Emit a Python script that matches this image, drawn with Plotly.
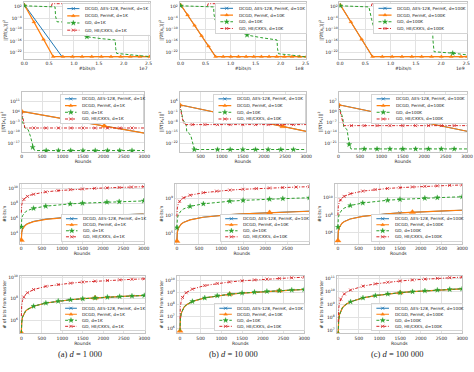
import plotly.graph_objects as go

W, H = 474, 372
BLUE, ORANGE, GREEN, RED = "#1f77b4", "#ff7f0e", "#2ca02c", "#d62728"
GRID, FRAME, TXT = "#e2e2e2", "#c4c4c4", "#222222"
FONT = "DejaVu Sans"

# ---------------- labels ----------------
DIMS = ["1K", "10K", "100K"]
CAPTIONS = ["(a) <i>d</i> = 1 000", "(b) <i>d</i> = 10 000", "(c) <i>d</i> = 100 000"]
OFFSET_TEXT = ["1e7", "1e8", "1e9"]
NAMES = ["DCGD, AES-128, PermK", "DCGD, PermK", "GD", "GD, HE/CKKS"]
GRAD_TITLE = "||∇f(x<sub>k</sub>)||<sup>2</sup>"

# ---------------- row 1: ||grad||^2 vs #bits/n ----------------
g1_aes_1k_x = [0.0, 0.253, 0.506, 0.759, 1.012, 1.265, 1.518, 1.771, 2.024, 2.277, 2.53]
g1_aes_1k_y = [1.6e3, 1.1e-6, 7.4e-16, 5e-25, 5e-25, 5e-25, 5e-25, 5e-25, 5e-25, 5e-25, 5e-25]
g1_perm_1k_x = [0.0, 0.194, 0.388, 0.582, 0.776, 0.97, 1.164, 1.358, 1.552, 1.746, 1.94, 2.134, 2.328, 2.522]
g1_perm_1k_y = [1.6e3, 1e-6, 6e-16, 5e-25, 5e-25, 5e-25, 5e-25, 5e-25, 5e-25, 5e-25, 5e-25, 5e-25, 5e-25, 5e-25]
g1_gd_1k_x = [0.0, 0.3, 0.62, 0.63, 0.66, 1.24, 1.25, 1.26, 1.55, 1.83, 1.84, 1.86, 2.2, 2.53]
g1_gd_1k_y = [4e2, 1.6e2, 1e2, 1e-3, 1.3e-6, 6.3e-7, 1e-10, 1.6e-14, 1.6e-15, 3.2e-16, 1e-20, 2.5e-23, 3.2e-24, 5e-25]
g1_he_1k_x = [0.55, 0.56, 1.1, 1.65, 2.2, 2.53]
g1_he_1k_y = [3e2, 5e3, 5e3, 5e3, 5e3, 5e3]

g1_aes_10k_x = [0.0, 0.70, 1.2, 1.7, 2.2, 2.52]
g1_aes_10k_y = [1.6e3, 5e-25, 5e-25, 5e-25, 5e-25, 5e-25]
g1_perm_10k_x = [0.0, 0.14, 0.28, 0.42, 0.56, 0.70, 0.853, 1.006, 1.159, 1.312, 1.465, 1.618, 1.771, 1.924, 2.077, 2.23, 2.383, 2.52]
g1_perm_10k_y = [1.6e3, 5e-3, 1.6e-8, 5e-14, 1.6e-19, 5e-25, 5e-25, 5e-25, 5e-25, 5e-25, 5e-25, 5e-25, 5e-25, 5e-25, 5e-25, 5e-25, 5e-25, 5e-25]
g1_gd_10k_x = [0.0, 0.35, 0.66, 0.67, 0.69, 1.31, 1.32, 1.33, 1.6, 1.93, 1.94, 1.96, 2.25, 2.52]
g1_gd_10k_y = [4e2, 2e2, 1e2, 1e-2, 1e-5, 5e-6, 1e-9, 1.3e-13, 6.3e-15, 3.2e-16, 1e-20, 1.6e-23, 2.5e-24, 3.2e-25]
g1_he_10k_x = [0.54, 0.55, 1.1, 1.65, 2.2, 2.52]
g1_he_10k_y = [3e2, 5e3, 5e3, 5e3, 5e3, 5e3]

g1_aes_100k_x = [0.0, 0.64, 1.2, 1.8, 2.52]
g1_aes_100k_y = [1.6e3, 5e-25, 5e-25, 5e-25, 5e-25]
g1_perm_100k_x = [0.0, 0.213, 0.427, 0.64, 0.835, 1.03, 1.225, 1.42, 1.615, 1.81, 2.005, 2.2, 2.395, 2.52]
g1_perm_100k_y = [1.6e3, 1.1e-6, 7.4e-16, 5e-25, 5e-25, 5e-25, 5e-25, 5e-25, 5e-25, 5e-25, 5e-25, 5e-25, 5e-25, 5e-25]
g1_gd_100k_x = [0.0, 0.3, 0.57, 0.62, 0.67, 1.2, 1.83, 1.84, 1.86, 2.23, 2.52]
g1_gd_100k_y = [4e2, 2e2, 1e2, 6.3e-5, 4e-10, 1.6e-10, 5e-11, 1e-16, 2e-22, 3.2e-23, 4e-24]
g1_he_100k_x = [0.62, 0.63, 1.2, 1.8, 2.52]
g1_he_100k_y = [3e2, 5e3, 5e3, 5e3, 5e3]

# ---------------- row 2: ||grad||^2 vs rounds ----------------
g2_aes_1k_x = [0, 3000]
g2_aes_1k_y = [2e4, 5e-11]
g2_perm_1k_x = [0, 2020, 3000]
g2_perm_1k_y = [2e4, 3e-6, 5e-11]
g2_gd_1k_x = [0, 20, 30, 60, 80, 120, 160, 215, 270, 300, 340, 600, 900, 1200, 1500, 1800, 2100, 2400, 2700, 3000]
g2_gd_1k_y = [2e4, 1e0, 2.5e-4, 1e-5, 1.3e-7, 3e-8, 1e-8, 3e-13, 1.3e-20, 3e-22, 8e-23, 8e-23, 8e-23, 8e-23, 8e-23, 8e-23, 8e-23, 8e-23, 8e-23, 8e-23]
g2_he_1k_x = [0, 30, 60, 80, 300, 600, 900, 1200, 1500, 1800, 2100, 2400, 2700, 3000]
g2_he_1k_y = [2e4, 1e0, 1e-4, 1.3e-7, 1.3e-7, 1.3e-7, 1.3e-7, 1.3e-7, 1.3e-7, 1.3e-7, 1.3e-7, 1.3e-7, 1.3e-7, 1.3e-7]

g2_aes_10k_x = [0, 3000]
g2_aes_10k_y = [6.3e3, 1e-14]
g2_perm_10k_x = [0, 2450, 3000]
g2_perm_10k_y = [6.3e3, 2e-11, 1e-14]
g2_gd_10k_x = [0, 40, 78, 120, 156, 170, 230, 270, 310, 350, 600, 900, 1200, 1500, 1800, 2100, 2400, 2700, 3000]
g2_gd_10k_y = [6.3e3, 1e0, 6.3e-7, 1e-8, 3.2e-10, 1e-14, 3.2e-16, 5e-18, 1.3e-23, 6.3e-27, 6.3e-27, 6.3e-27, 6.3e-27, 6.3e-27, 6.3e-27, 6.3e-27, 6.3e-27, 6.3e-27, 6.3e-27]
g2_he_10k_x = [0, 40, 80, 120, 300, 600, 900, 1200, 1500, 1800, 2100, 2400, 2700, 3000]
g2_he_10k_y = [6.3e3, 1e-2, 1e-7, 3.2e-10, 3.2e-10, 3.2e-10, 3.2e-10, 3.2e-10, 3.2e-10, 3.2e-10, 3.2e-10, 3.2e-10, 3.2e-10, 3.2e-10]

g2_aes_100k_x = [0, 3000]
g2_aes_100k_y = [6.3e4, 8e-14]
g2_perm_100k_x = [0, 1930, 3000]
g2_perm_100k_y = [6.3e4, 2e-7, 8e-14]
g2_gd_100k_x = [0, 60, 100, 115, 125, 200, 250, 290, 600, 900, 1200, 1500, 1800, 2100, 2400, 2700, 3000]
g2_gd_100k_y = [6.3e4, 1e0, 6.3e-5, 1e-8, 6.3e-11, 1e-12, 1e-22, 1e-25, 1e-25, 1e-25, 1e-25, 1e-25, 1e-25, 1e-25, 1e-25, 1e-25, 1e-25]
g2_he_100k_x = [0, 60, 120, 300, 600, 900, 1200, 1500, 1800, 2100, 2400, 2700, 3000]
g2_he_100k_y = [6.3e4, 1e-3, 5e-10, 5e-10, 5e-10, 5e-10, 5e-10, 5e-10, 5e-10, 5e-10, 5e-10, 5e-10, 5e-10]

# ---------------- rows 3-4: cumulative bits vs rounds ----------------
ROUNDS = [1, 3, 10, 30, 60, 100, 150, 200, 300, 600, 900, 1200, 1500, 1800, 2100, 2400, 2700, 3000]

b3_aes_1k = [1.3e3, 3.9e3, 1.3e4, 3.9e4, 7.8e4, 1.3e5, 1.95e5, 2.6e5, 3.9e5, 7.8e5, 1.17e6, 1.56e6, 1.95e6, 2.34e6, 2.73e6, 3.12e6, 3.51e6, 3.9e6]
b3_perm_1k = [1.2e3, 3.6e3, 1.2e4, 3.6e4, 7.2e4, 1.2e5, 1.8e5, 2.4e5, 3.6e5, 7.2e5, 1.08e6, 1.44e6, 1.8e6, 2.16e6, 2.52e6, 2.88e6, 3.24e6, 3.6e6]
b3_gd_1k = [7.2e4, 2.2e5, 7.2e5, 2.2e6, 4.3e6, 7.2e6, 1.1e7, 1.4e7, 2.2e7, 4.3e7, 6.5e7, 8.6e7, 1.08e8, 1.3e8, 1.51e8, 1.73e8, 1.94e8, 2.16e8]
b3_he_1k = [5.8e6, 1.7e7, 5.8e7, 1.7e8, 3.5e8, 5.8e8, 8.7e8, 1.2e9, 1.7e9, 3.5e9, 5.2e9, 7.0e9, 8.7e9, 1.04e10, 1.22e10, 1.39e10, 1.57e10, 1.74e10]

b3_aes_10k = [1.16e4, 3.5e4, 1.16e5, 3.5e5, 7.0e5, 1.16e6, 1.74e6, 2.3e6, 3.5e6, 7.0e6, 1.04e7, 1.39e7, 1.74e7, 2.1e7, 2.4e7, 2.8e7, 3.1e7, 3.5e7]
b3_perm_10k = [1.13e4, 3.4e4, 1.13e5, 3.4e5, 6.8e5, 1.13e6, 1.7e6, 2.3e6, 3.4e6, 6.8e6, 1.02e7, 1.36e7, 1.7e7, 2.0e7, 2.4e7, 2.7e7, 3.1e7, 3.4e7]
b3_gd_10k = [4.2e5, 1.26e6, 4.2e6, 1.26e7, 2.5e7, 4.2e7, 6.3e7, 8.4e7, 1.26e8, 2.5e8, 3.8e8, 5.0e8, 6.3e8, 7.6e8, 8.8e8, 1.01e9, 1.13e9, 1.26e9]
b3_he_10k = [8.2e6, 2.5e7, 8.2e7, 2.5e8, 4.9e8, 8.2e8, 1.23e9, 1.64e9, 2.5e9, 4.9e9, 7.4e9, 9.8e9, 1.23e10, 1.48e10, 1.72e10, 1.97e10, 2.21e10, 2.46e10]

b3_aes_100k = [1.29e5, 3.9e5, 1.29e6, 3.9e6, 7.7e6, 1.29e7, 1.94e7, 2.6e7, 3.9e7, 7.7e7, 1.16e8, 1.55e8, 1.94e8, 2.3e8, 2.7e8, 3.1e8, 3.5e8, 3.9e8]
b3_perm_100k = [1.27e5, 3.8e5, 1.27e6, 3.8e6, 7.6e6, 1.27e7, 1.9e7, 2.5e7, 3.8e7, 7.6e7, 1.14e8, 1.52e8, 1.9e8, 2.3e8, 2.7e8, 3.0e8, 3.4e8, 3.8e8]
b3_gd_100k = [4.4e6, 1.32e7, 4.4e7, 1.32e8, 2.6e8, 4.4e8, 6.6e8, 8.8e8, 1.32e9, 2.6e9, 4.0e9, 5.3e9, 6.6e9, 7.9e9, 9.2e9, 1.06e10, 1.19e10, 1.32e10]
b3_he_100k = [9.8e7, 2.9e8, 9.8e8, 2.9e9, 5.9e9, 9.8e9, 1.47e10, 1.96e10, 2.9e10, 5.9e10, 8.8e10, 1.18e11, 1.47e11, 1.76e11, 2.06e11, 2.35e11, 2.65e11, 2.94e11]

m4_common_1k = [6.7e4, 2.0e5, 6.7e5, 2.0e6, 4.0e6, 6.7e6, 1.0e7, 1.34e7, 2.0e7, 4.0e7, 6.0e7, 8.0e7, 1.0e8, 1.2e8, 1.41e8, 1.61e8, 1.81e8, 2.0e8]
m4_he_1k = [2.4e6, 7.1e6, 2.4e7, 7.1e7, 1.42e8, 2.4e8, 3.6e8, 4.7e8, 7.1e8, 1.42e9, 2.1e9, 2.8e9, 3.6e9, 4.3e9, 5.0e9, 5.7e9, 6.4e9, 7.1e9]
m4_common_10k = [5.9e5, 1.77e6, 5.9e6, 1.77e7, 3.5e7, 5.9e7, 8.9e7, 1.18e8, 1.77e8, 3.5e8, 5.3e8, 7.1e8, 8.9e8, 1.06e9, 1.24e9, 1.42e9, 1.59e9, 1.77e9]
m4_he_10k = [6.3e6, 1.9e7, 6.3e7, 1.9e8, 3.8e8, 6.3e8, 9.5e8, 1.26e9, 1.9e9, 3.8e9, 5.7e9, 7.6e9, 9.5e9, 1.13e10, 1.32e10, 1.51e10, 1.7e10, 1.89e10]
m4_common_100k = [5.0e6, 1.5e7, 5.0e7, 1.5e8, 3.0e8, 5.0e8, 7.5e8, 1.0e9, 1.5e9, 3.0e9, 4.5e9, 6.0e9, 7.5e9, 9.0e9, 1.05e10, 1.2e10, 1.35e10, 1.5e10]
m4_he_100k = [4.0e7, 1.2e8, 4.0e8, 1.2e9, 2.4e9, 4.0e9, 6.0e9, 8.0e9, 1.2e10, 2.4e10, 3.6e10, 4.8e10, 6.0e10, 7.2e10, 8.4e10, 9.6e10, 1.08e11, 1.2e11]

# ---------------- ticks (log10 exponents) ----------------
G1_TICK_EXP = [2, -4, -10, -16, -22]
G2_TICK_EXP = [[11, 4, -3, -10, -17], [6, -1, -8, -15, -22], [7, 0, -7, -14, -21]]
B3_TICK_EXP = [[4, 6, 8, 10], [5, 7, 9], [6, 8, 10]]
M4_TICK_EXP = [[6, 8, 10], [6, 7, 8, 9, 10], [7, 8, 9, 10, 11]]
BITS_TICKS = [0.0, 0.5, 1.0, 1.5, 2.0, 2.5]
ROUND_TICKS = [0, 500, 1000, 1500, 2000, 2500, 3000]

# ---------------- layout constants (pixels) ----------------
ROW_Y = {1: (0, 57), 2: (90, 151), 3: (183, 243), 4: (275, 333)}
COL_X = {1: [(21, 150), (180, 309), (343, 473)],
         2: [(19, 144), (180, 309), (342, 473)],
         3: [(17, 144), (175, 312), (338, 468)],
         4: [(17, 145), (177, 307), (340, 468)]}
X_RANGE = {1: [(-0.013, 2.533), (-0.02, 2.513), (-0.013, 2.513)],
           2: [(0, 3000), (0, 3000), (0, 3000)],
           3: [(-40, 3015), (-50, 2995), (-80, 3000)],
           4: [(-40, 3024), (-80, 3000), (-40, 3000)]}
Y_RANGE = {1: [(-25.4, 4.6)] * 3,
           2: [(-23.2, 17.7), (-28.0, 12.7), (-27.2, 13.7)],
           3: [(2.6, 10.6), (3.76, 10.7), (4.76, 11.58)],
           4: [(4.79, 10.16), (5.58, 10.42), (6.75, 11.2)]}
LEGEND_BOX = {1: [(61, 150, 2, 33), (217, 309, 2, 31), (378, 473, 2, 31)],
              2: [(59, 143, 93, 122), (215, 308, 93, 122), (376, 473, 93, 122)],
              3: [(60, 144, 214, 240), (222, 312, 214, 240), (376, 468, 214, 240)],
              4: [(59, 145, 304, 330), (216, 307, 304, 330), (376, 468, 304, 330)]}

STYLE = {
    "aes": dict(color=BLUE, dash="solid", width=1.0, symbol="x-thin", open=True),
    "perm": dict(color=ORANGE, dash="solid", width=1.2, symbol="triangle-up", open=False),
    "gd": dict(color=GREEN, dash="3px,2px", width=1.0, symbol="star", open=False),
    "he": dict(color=RED, dash="3px,1.5px,1px,1.5px", width=1.0, symbol="x-thin", open=True),
}
ORDER = ["aes", "perm", "gd", "he"]

ALL = None
R = ROUNDS
panels = [
    # row 1
    dict(row=1, col=1, aes=(g1_aes_1k_x, g1_aes_1k_y, []), perm=(g1_perm_1k_x, g1_perm_1k_y, ALL),
         gd=(g1_gd_1k_x, g1_gd_1k_y, [0, 7]), he=(g1_he_1k_x, g1_he_1k_y, [])),
    dict(row=1, col=2, aes=(g1_aes_10k_x, g1_aes_10k_y, []), perm=(g1_perm_10k_x, g1_perm_10k_y, ALL),
         gd=(g1_gd_10k_x, g1_gd_10k_y, [0, 7]), he=(g1_he_10k_x, g1_he_10k_y, [])),
    dict(row=1, col=3, aes=(g1_aes_100k_x, g1_aes_100k_y, []), perm=(g1_perm_100k_x, g1_perm_100k_y, ALL),
         gd=(g1_gd_100k_x, g1_gd_100k_y, [0, 9]), he=(g1_he_100k_x, g1_he_100k_y, [])),
    # row 2
    dict(row=2, col=1, aes=(g2_aes_1k_x, g2_aes_1k_y, []), perm=(g2_perm_1k_x, g2_perm_1k_y, [0, 1]),
         gd=(g2_gd_1k_x, g2_gd_1k_y, [8, 11, 12, 13, 14, 15, 16, 17, 18]),
         he=(g2_he_1k_x, g2_he_1k_y, [4, 5, 6, 7, 8, 9, 10, 11, 12])),
    dict(row=2, col=2, aes=(g2_aes_10k_x, g2_aes_10k_y, []), perm=(g2_perm_10k_x, g2_perm_10k_y, [0, 1]),
         gd=(g2_gd_10k_x, g2_gd_10k_y, [9, 11, 12, 13, 14, 15, 16, 17]),
         he=(g2_he_10k_x, g2_he_10k_y, [4, 5, 6, 7, 8, 9, 10, 11, 12])),
    dict(row=2, col=3, aes=(g2_aes_100k_x, g2_aes_100k_y, []), perm=(g2_perm_100k_x, g2_perm_100k_y, [0, 1]),
         gd=(g2_gd_100k_x, g2_gd_100k_y, [6, 8, 9, 10, 11, 12, 13, 14, 15]),
         he=(g2_he_100k_x, g2_he_100k_y, [3, 4, 5, 6, 7, 8, 9, 10, 11])),
    # row 3
    dict(row=3, col=1, aes=(R, b3_aes_1k, []), perm=(R, b3_perm_1k, [0]),
         gd=(R, b3_gd_1k, [0, 8, 9, 11, 12, 14, 15, 17]),
         he=(R, b3_he_1k, [4, 6, 8, 9, 10, 11, 12, 13, 14, 15, 16, 17])),
    dict(row=3, col=2, aes=(R, b3_aes_10k, []), perm=(R, b3_perm_10k, [0, 14]),
         gd=(R, b3_gd_10k, [0, 8, 9, 11, 12, 14, 15, 17]),
         he=(R, b3_he_10k, [4, 6, 8, 9, 10, 11, 12, 13, 14, 15, 16, 17])),
    dict(row=3, col=3, aes=(R, b3_aes_100k, [12]), perm=(R, b3_perm_100k, [0, 13]),
         gd=(R, b3_gd_100k, [0, 8, 9, 11, 12, 14, 15, 17]),
         he=(R, b3_he_100k, [4, 6, 8, 9, 10, 11, 12, 13, 14, 15, 16, 17])),
    # row 4
    dict(row=4, col=1, aes=(R, m4_common_1k, []), perm=(R, m4_common_1k, [0, 13]),
         gd=(R, m4_common_1k, [8, 9, 10, 11, 12, 13, 14, 15, 16, 17]),
         he=(R, m4_he_1k, [4, 6, 8, 9, 10, 11, 12, 13, 14, 15, 16, 17])),
    dict(row=4, col=2, aes=(R, m4_common_10k, []), perm=(R, m4_common_10k, [0, 11, 15]),
         gd=(R, m4_common_10k, [8, 9, 10, 11, 12, 13, 14, 15, 16, 17]),
         he=(R, m4_he_10k, [4, 6, 8, 9, 10, 11, 12, 13, 14, 15, 16, 17])),
    dict(row=4, col=3, aes=(R, m4_common_100k, []), perm=(R, m4_common_100k, [0, 12]),
         gd=(R, m4_common_100k, [8, 9, 10, 11, 12, 13, 14, 15, 16, 17]),
         he=(R, m4_he_100k, [4, 6, 8, 9, 10, 11, 12, 13, 14, 15, 16, 17])),
]


def aid(n):
    return "" if n == 1 else str(n)


def pow_text(e):
    s = str(e).replace("-", "\u2212")
    return f"10<sup>{s}</sup>"


def msize(key, row, legend=False):
    if legend:
        return {"aes": 3, "perm": 3.5, "gd": 4, "he": 3}[key]
    return {"aes": 3, "perm": 3.5 if row <= 1 else 5.5, "gd": 4, "he": 3}[key]


def marker_dict(key, row, legend=False):
    st = STYLE[key]
    if st["open"]:
        return dict(symbol=st["symbol"], size=msize(key, row, legend), color=st["color"],
                    line=dict(width=0.8, color=st["color"]))
    return dict(symbol=st["symbol"], size=msize(key, row, legend), color=st["color"],
                line=dict(width=0.3, color=st["color"]))


fig = go.Figure()
FS = 4.5
LFS = 4.2
layout = dict(width=W, height=H, margin=dict(l=0, r=0, t=0, b=0),
              paper_bgcolor="white", plot_bgcolor="white", showlegend=False,
              font=dict(family=FONT, size=FS, color=TXT))
annotations = []
TICKF = dict(family=FONT, size=FS, color=TXT)
TITLEF = dict(family=FONT, size=FS, color=TXT)

for p, spec in enumerate(panels, start=1):
    r, c = spec["row"], spec["col"]
    px0, px1 = COL_X[r][c - 1]
    py0, py1 = ROW_Y[r]
    xs, ys = "x" + aid(p), "y" + aid(p)

    for key in ORDER:
        x, y, mk = spec[key]
        st = STYLE[key]
        fig.add_trace(go.Scatter(x=x, y=y, mode="lines", xaxis=xs, yaxis=ys, showlegend=False,
                                 hoverinfo="skip",
                                 line=dict(color=st["color"], width=st["width"], dash=st["dash"])))
        idx = list(range(len(x))) if mk is None else mk
        if idx:
            fig.add_trace(go.Scatter(x=[x[i] for i in idx], y=[y[i] for i in idx], mode="markers",
                                     xaxis=xs, yaxis=ys, showlegend=False, hoverinfo="skip",
                                     marker=marker_dict(key, r)))

    if r == 1:
        xt, xtt, xtitle = BITS_TICKS, [f"{v:.1f}" for v in BITS_TICKS], "#bits/n"
        yexp, ytitle = G1_TICK_EXP, GRAD_TITLE
    elif r == 2:
        xt = ROUND_TICKS[1:] if c == 2 else ROUND_TICKS
        xtt, xtitle = [str(v) for v in xt], "Rounds"
        yexp, ytitle = G2_TICK_EXP[c - 1], GRAD_TITLE
    elif r == 3:
        xt = ROUND_TICKS[:-1] if c == 2 else ROUND_TICKS
        xtt, xtitle = [str(v) for v in xt], "Rounds"
        yexp, ytitle = B3_TICK_EXP[c - 1], "#bits/n"
    else:
        xt = ROUND_TICKS
        xtt, xtitle = [str(v) for v in xt], "Rounds"
        yexp, ytitle = M4_TICK_EXP[c - 1], "# of bits from master"

    common = dict(showgrid=True, gridcolor=GRID, gridwidth=0.6, showline=True, linecolor=FRAME,
                  linewidth=0.8, mirror=True, ticks="", zeroline=False, tickfont=TICKF,
                  fixedrange=True)
    layout["xaxis" + aid(p)] = dict(domain=[px0 / W, px1 / W], anchor=ys, range=list(X_RANGE[r][c - 1]),
                                   tickmode="array", tickvals=xt, ticktext=xtt,
                                   title=dict(text=xtitle, font=TITLEF, standoff=1), **common)
    layout["yaxis" + aid(p)] = dict(domain=[1 - py1 / H, 1 - py0 / H], anchor=xs, type="log",
                                   range=list(Y_RANGE[r][c - 1]), tickmode="array",
                                   tickvals=[10.0 ** e for e in yexp], ticktext=[pow_text(e) for e in yexp],
                                   title=dict(text=ytitle, font=TITLEF, standoff=1), **common)

    if r == 1:
        annotations.append(dict(text=OFFSET_TEXT[c - 1], xref=xs + " domain", yref=ys + " domain",
                                x=1.0, y=0.0, yshift=-10, xanchor="right", yanchor="middle",
                                showarrow=False, font=dict(family=FONT, size=FS, color=TXT)))

    # legend box: a small subplot drawn above the panel
    q = 12 + p
    lx, ly = "x" + aid(q), "y" + aid(q)
    bx0, bx1, by0, by1 = LEGEND_BOX[r][c - 1]
    box_axis = dict(showgrid=False, zeroline=False, showticklabels=False, ticks="", showline=True,
                    linecolor="#d4d4d4", linewidth=0.6, mirror=True, range=[0, 1], fixedrange=True)
    layout["xaxis" + aid(q)] = dict(domain=[bx0 / W, bx1 / W], anchor=ly, **box_axis)
    layout["yaxis" + aid(q)] = dict(domain=[1 - by1 / H, 1 - by0 / H], anchor=lx, **box_axis)
    for i, key in enumerate(ORDER):
        yy = 0.85 - 0.233 * i
        st = STYLE[key]
        fig.add_trace(go.Scatter(x=[0.05, 0.19], y=[yy, yy], mode="lines", xaxis=lx, yaxis=ly,
                                 showlegend=False, hoverinfo="skip",
                                 line=dict(color=st["color"], width=st["width"], dash=st["dash"])))
        fig.add_trace(go.Scatter(x=[0.12], y=[yy], mode="markers", xaxis=lx, yaxis=ly,
                                 showlegend=False, hoverinfo="skip", marker=marker_dict(key, r, True)))
        annotations.append(dict(text=f"{NAMES[i]}, d={DIMS[c - 1]}", xref=lx, yref=ly, x=0.23, y=yy,
                                xanchor="left", yanchor="middle", showarrow=False,
                                font=dict(family=FONT, size=LFS, color=TXT)))

for c, cap in enumerate(CAPTIONS):
    cx = [78, 235, 402][c]
    annotations.append(dict(text=cap, xref="paper", yref="paper", x=cx / W, y=1 - 354 / H,
                            xanchor="center", yanchor="middle", showarrow=False,
                            font=dict(family="Liberation Serif", size=8.5, color=TXT)))

layout["annotations"] = annotations
fig.update_layout(**layout)
fig.write_html("out.html", config={"displayModeBar": False},
               post_script="document.body.style.margin='0';document.body.style.overflow='hidden';")
